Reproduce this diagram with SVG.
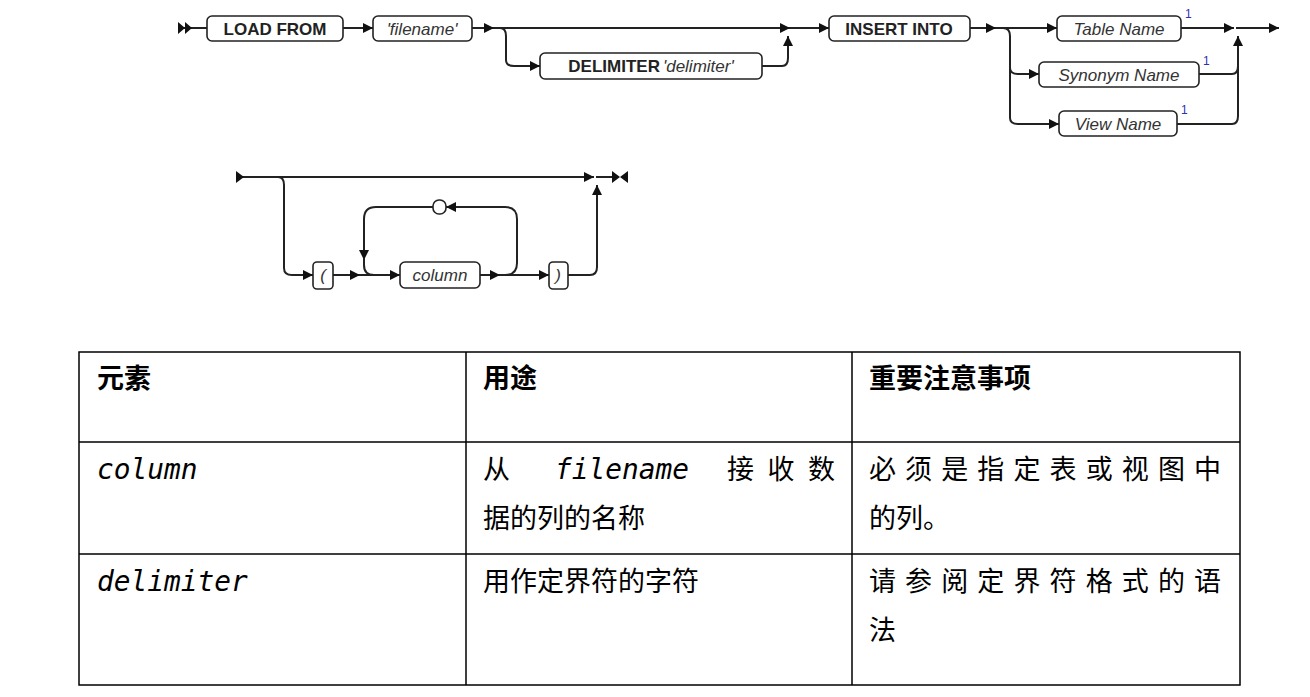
<svg xmlns="http://www.w3.org/2000/svg" width="1310" height="697" viewBox="0 0 1310 697">
<style>
.ln{fill:none;stroke:#222;stroke-width:2}
.bx{fill:#fff;stroke:#222;stroke-width:1.6}
.kw{font-family:"Liberation Sans",Arial,sans-serif;font-weight:bold;font-size:17px;fill:#222}
.it{font-family:"Liberation Sans",Arial,sans-serif;font-style:italic;font-size:17px;fill:#333}
.sup{font-family:"Liberation Sans",Arial,sans-serif;font-size:12px;fill:#3030b0}
.cj{font-family:"Noto Sans CJK SC","Noto Sans CJK JP",sans-serif;font-size:27px;fill:#000}
.mo{font-family:"DejaVu Sans Mono","Liberation Mono",monospace;font-style:italic;font-size:27.8px;fill:#000}
.tb{fill:none;stroke:#000;stroke-width:1.5}
</style>
<defs>
<marker id="a" viewBox="0 0 10 10" refX="10" refY="5" markerWidth="10" markerHeight="10" markerUnits="userSpaceOnUse" orient="auto"><path d="M0,0 L10,5 L0,10 z" fill="#111"/></marker>
</defs>
<g id="connectors">
<path class="ln" d="M180,28 H207"/>
<path d="M178,22 L185,28 L178,34 z M185,22 L192,28 L185,34 z" fill="#111"/>
<path class="ln" d="M343,28 H373" marker-end="url(#a)"/>
<path class="ln" d="M472,28 H494" marker-end="url(#a)"/>
<path class="ln" d="M494,28 H790" marker-end="url(#a)"/>
<path class="ln" d="M500,28 Q506,28 506,36 V60 Q506,66 514,66 H540" marker-end="url(#a)"/>
<path class="ln" d="M762,66 H782 Q788,66 788,58 V36" marker-end="url(#a)"/>
<path class="ln" d="M790,28 H829" marker-end="url(#a)"/>
<path class="ln" d="M970,28 H996" marker-end="url(#a)"/>
<path class="ln" d="M996,28 H1057" marker-end="url(#a)"/>
<path class="ln" d="M1003,28 Q1010,28 1010,36 V68 Q1010,74 1018,74 H1039" marker-end="url(#a)"/>
<path class="ln" d="M1010,68 V118 Q1010,124 1018,124 H1059" marker-end="url(#a)"/>
<path class="ln" d="M1181,28 H1234" marker-end="url(#a)"/>
<path class="ln" d="M1199,74 H1232 Q1238,74 1238,66"/>
<path class="ln" d="M1177,124 H1232 Q1238,124 1238,116 V36" marker-end="url(#a)"/>
<path class="ln" d="M1236,28 H1279" marker-end="url(#a)"/>
<path class="ln" d="M237,177 H594" marker-end="url(#a)"/>
<path d="M236,171 L244,177 L236,183 z" fill="#111"/>
<path class="ln" d="M278,177 Q284,177 284,185 V268 Q284,275 292,275 H313" marker-end="url(#a)"/>
<path class="ln" d="M333,275 H360" marker-end="url(#a)"/>
<path class="ln" d="M360,275 H400" marker-end="url(#a)"/>
<path class="ln" d="M480,275 H500" marker-end="url(#a)"/>
<path class="ln" d="M500,275 H549" marker-end="url(#a)"/>
<path class="ln" d="M505,275 Q517,275 517,263 V219 Q517,207 505,207 H446" marker-end="url(#a)"/>
<path class="ln" d="M433,207 H376 Q364,207 364,219 V260" marker-end="url(#a)"/>
<path class="ln" d="M364,258 V265 Q364,275 374,275"/>
<path class="ln" d="M568,275 H590 Q597,275 597,267 V185" marker-end="url(#a)"/>
<path class="ln" d="M596,177 H612"/>
<path d="M612,171 L620,177 L612,183 z M628,171 L620,177 L628,183 z" fill="#111"/>
</g>
<g id="n-load"><rect class="bx" x="207" y="16" width="136" height="25" rx="5"/><text class="kw" x="275" y="35" text-anchor="middle">LOAD FROM</text></g>
<g id="n-filename"><rect class="bx" x="373" y="16" width="99" height="25" rx="5"/><text class="it" x="422" y="35" text-anchor="middle" font-size="16">'filename'</text></g>
<g id="n-delim"><rect class="bx" x="540" y="53" width="222" height="26" rx="5"/><text x="651" y="72" text-anchor="middle"><tspan class="kw">DELIMITER</tspan><tspan class="it" dx="3">'delimiter'</tspan></text></g>
<g id="n-insert"><rect class="bx" x="829" y="16" width="141" height="25" rx="5"/><text class="kw" x="899" y="35" text-anchor="middle">INSERT INTO</text></g>
<g id="n-table"><rect class="bx" x="1057" y="16" width="124" height="25" rx="5"/><text class="it" x="1119" y="35" text-anchor="middle">Table Name</text><text class="sup" x="1185" y="18">1</text></g>
<g id="n-synonym"><rect class="bx" x="1039" y="62" width="160" height="25" rx="5"/><text class="it" x="1119" y="81" text-anchor="middle">Synonym Name</text><text class="sup" x="1203" y="65">1</text></g>
<g id="n-view"><rect class="bx" x="1059" y="111" width="118" height="25" rx="5"/><text class="it" x="1118" y="130" text-anchor="middle">View Name</text><text class="sup" x="1181" y="114">1</text></g>
<g id="n-lparen"><rect class="bx" x="313" y="262" width="20" height="27" rx="4"/><text class="it" x="323" y="281" text-anchor="middle">(</text></g>
<g id="n-column"><rect class="bx" x="400" y="262" width="80" height="26" rx="5"/><text class="it" x="440" y="281" text-anchor="middle">column</text></g>
<g id="n-comma"><rect class="bx" x="433" y="200" width="13" height="14" rx="6"/></g>
<g id="n-rparen"><rect class="bx" x="549" y="262" width="19" height="27" rx="4"/><text class="it" x="558" y="281" text-anchor="middle">)</text></g>
<g id="table">
<rect class="tb" x="79" y="352" width="1161" height="333"/>
<path class="tb" d="M466,352 V685 M852,352 V685 M79,442 H1240 M79,554 H1240"/>
<text class="cj" x="97" y="388" font-weight="bold">元素</text>
<text class="cj" x="483" y="388" font-weight="bold">用途</text>
<text class="cj" x="869" y="388" font-weight="bold">重要注意事项</text>
<text class="mo" x="97" y="479">column</text>
<text class="cj" x="483" y="479">从</text>
<text class="mo" x="555" y="479">filename</text>
<text class="cj" x="727" y="479" textLength="108" lengthAdjust="spacing">接收数</text>
<text class="cj" x="483" y="528">据的列的名称</text>
<text class="cj" x="869" y="479" textLength="352" lengthAdjust="spacing">必须是指定表或视图中</text>
<text class="cj" x="869" y="528">的列。</text>
<text class="mo" x="97" y="591">delimiter</text>
<text class="cj" x="483" y="591">用作定界符的字符</text>
<text class="cj" x="869" y="591" textLength="352" lengthAdjust="spacing">请参阅定界符格式的语</text>
<text class="cj" x="869" y="640">法</text>
</g>
</svg>
